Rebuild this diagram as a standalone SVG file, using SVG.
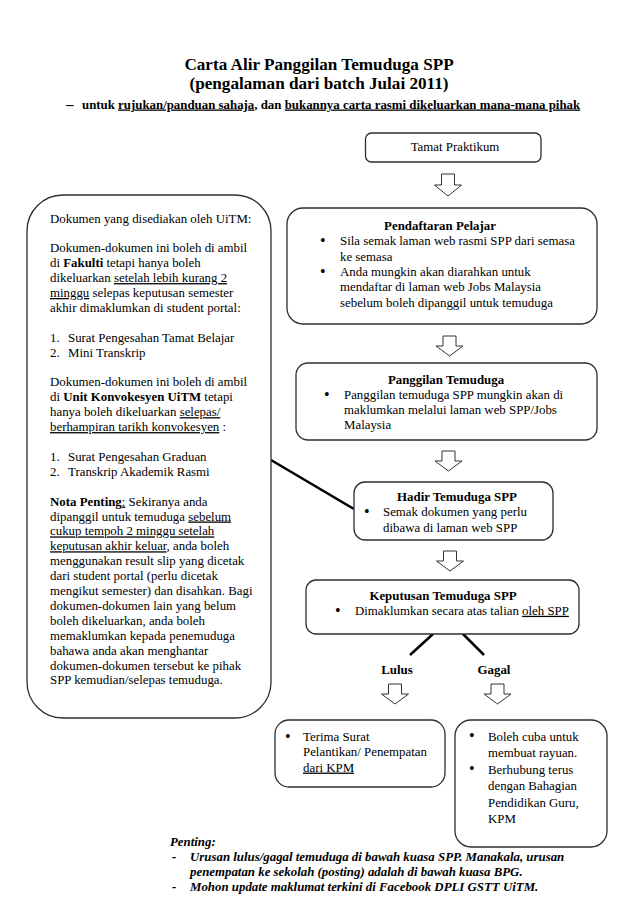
<svg xmlns="http://www.w3.org/2000/svg" width="638" height="902" viewBox="0 0 638 902">
<style>
.t{font-family:"Liberation Serif","Times New Roman",serif;font-size:12.87px;fill:#000}
.h{font-family:"Liberation Serif","Times New Roman",serif;font-size:17.15px;font-weight:bold;fill:#000}
.bl{font-family:"Liberation Serif","Times New Roman",serif;font-size:16px;fill:#000}
.b{font-weight:bold}
.i{font-style:italic}
.u{text-decoration:underline}
.m{text-anchor:middle}
.box{fill:#fff;stroke:#2e2e2e;stroke-width:1.3}
.arr{fill:#fff;stroke:#333;stroke-width:1}
.conn{stroke:#000;stroke-width:2.5;fill:none}
</style>
<rect width="638" height="902" fill="#fff"/>

<g id="title">
<text class="h m" x="319" y="69.5">Carta Alir Panggilan Temuduga SPP</text>
<text class="h m" x="319" y="89.3">(pengalaman dari batch Julai 2011)</text>
<text class="t b" x="66" y="108.5" style="font-size:15px">–</text>
<text class="t b" x="82" y="108.5">untuk <tspan class="u">rujukan/panduan sahaja</tspan>, dan <tspan class="u">bukannya carta rasmi dikeluarkan mana-mana pihak</tspan></text>
</g>

<g id="connectors">
<line class="conn" x1="271" y1="460" x2="354" y2="509"/>
<line class="conn" x1="433" y1="634" x2="410" y2="655"/>
<line class="conn" x1="463" y1="634" x2="484" y2="655"/>
<path class="arr" d="M441.5,174 H454.5 V185 H461.5 L448,196 L434.5,185 H441.5 Z"/>
<path class="arr" d="M443,336 H456 V346 H463 L449.5,356 L436,346 H443 Z"/>
<path class="arr" d="M442,451 H455 V461 H462 L448.5,471 L435,461 H442 Z"/>
<path class="arr" d="M443.5,551 H456.5 V561 H463.5 L450,571 L436.5,561 H443.5 Z"/>
<path class="arr" d="M388.5,684 H401.5 V694 H408.5 L395,704 L381.5,694 H388.5 Z"/>
<path class="arr" d="M491,684 H504 V694 H511 L497.5,704 L484,694 H491 Z"/>
</g>

<g id="tamat">
<rect class="box" x="365.5" y="133" width="175.5" height="29" rx="6"/>
<text class="t m" x="455" y="151">Tamat Praktikum</text>
</g>

<g id="dokumen">
<rect class="box" x="27" y="195" width="244" height="523" rx="36"/>
<text class="t" x="50" y="222.5">Dokumen yang disediakan oleh UiTM:</text>
<text class="t" x="50" y="252.3">Dokumen-dokumen ini boleh di ambil</text>
<text class="t" x="50" y="267.2">di <tspan class="b">Fakulti</tspan> tetapi hanya boleh</text>
<text class="t" x="50" y="282.1">dikeluarkan <tspan class="u">setelah lebih kurang 2</tspan></text>
<text class="t" x="50" y="297"><tspan class="u">minggu</tspan> selepas keputusan semester</text>
<text class="t" x="50" y="311.9">akhir dimaklumkan di student portal:</text>
<text class="t" x="50" y="341.7">1.</text><text class="t" x="68" y="341.7">Surat Pengesahan Tamat Belajar</text>
<text class="t" x="50" y="356.6">2.</text><text class="t" x="68" y="356.6">Mini Transkrip</text>
<text class="t" x="50" y="386.4">Dokumen-dokumen ini boleh di ambil</text>
<text class="t" x="50" y="401.3">di <tspan class="b">Unit Konvokesyen UiTM</tspan> tetapi</text>
<text class="t" x="50" y="416.2">hanya boleh dikeluarkan <tspan class="u">selepas/</tspan></text>
<text class="t" x="50" y="431.1"><tspan class="u">berhampiran tarikh konvokesyen</tspan> :</text>
<text class="t" x="50" y="460.9">1.</text><text class="t" x="68" y="460.9">Surat Pengesahan Graduan</text>
<text class="t" x="50" y="475.8">2.</text><text class="t" x="68" y="475.8">Transkrip Akademik Rasmi</text>
<text class="t" x="50" y="505.6"><tspan class="b">Nota Penting</tspan><tspan class="u">:</tspan> Sekiranya anda</text>
<text class="t" x="50" y="520.5">dipanggil untuk temuduga <tspan class="u">sebelum</tspan></text>
<text class="t" x="50" y="535.4"><tspan class="u">cukup tempoh 2 minggu setelah</tspan></text>
<text class="t" x="50" y="550.3"><tspan class="u">keputusan akhir keluar</tspan>, anda boleh</text>
<text class="t" x="50" y="565.2">menggunakan result slip yang dicetak</text>
<text class="t" x="50" y="580.1">dari student portal (perlu dicetak</text>
<text class="t" x="50" y="595">mengikut semester) dan disahkan. Bagi</text>
<text class="t" x="50" y="609.9">dokumen-dokumen lain yang belum</text>
<text class="t" x="50" y="624.8">boleh dikeluarkan, anda boleh</text>
<text class="t" x="50" y="639.7">memaklumkan kepada penemuduga</text>
<text class="t" x="50" y="654.6">bahawa anda akan menghantar</text>
<text class="t" x="50" y="669.5">dokumen-dokumen tersebut ke pihak</text>
<text class="t" x="50" y="684.4">SPP kemudian/selepas temuduga.</text>
</g>

<g id="pendaftaran">
<rect class="box" x="287" y="208" width="310" height="116" rx="16"/>
<text class="t b m" x="440" y="230">Pendaftaran Pelajar</text>
<text class="bl" x="320" y="246">•</text>
<text class="t" x="340" y="245.3">Sila semak laman web rasmi SPP dari semasa</text>
<text class="t" x="340" y="260.6">ke semasa</text>
<text class="bl" x="320" y="276.6">•</text>
<text class="t" x="340" y="275.9">Anda mungkin akan diarahkan untuk</text>
<text class="t" x="340" y="291.2">mendaftar di laman web Jobs Malaysia</text>
<text class="t" x="340" y="306.5">sebelum boleh dipanggil untuk temuduga</text>
</g>

<g id="panggilan">
<rect class="box" x="296" y="363" width="301" height="77" rx="12"/>
<text class="t b m" x="446" y="383.5">Panggilan Temuduga</text>
<text class="bl" x="324" y="399.5">•</text>
<text class="t" x="344" y="398.8">Panggilan temuduga SPP mungkin akan di</text>
<text class="t" x="344" y="414.1">maklumkan melalui laman web SPP/Jobs</text>
<text class="t" x="344" y="429.4">Malaysia</text>
</g>

<g id="hadir">
<rect class="box" x="354" y="482" width="199" height="58" rx="11"/>
<text class="t b m" x="457" y="501">Hadir Temuduga SPP</text>
<text class="bl" x="364" y="517">•</text>
<text class="t" x="383" y="516.3">Semak dokumen yang perlu</text>
<text class="t" x="383" y="531.6">dibawa di laman web SPP</text>
</g>

<g id="keputusan">
<rect class="box" x="306" y="580" width="273" height="54" rx="10"/>
<text class="t b m" x="443" y="599.5">Keputusan Temuduga SPP</text>
<text class="bl" x="335" y="615.5">•</text>
<text class="t" x="355" y="614.8">Dimaklumkan secara atas talian <tspan class="u">oleh SPP</tspan></text>
</g>

<g id="lulus">
<text class="t b m" x="397" y="673.5">Lulus</text>
</g>
<g id="gagal">
<text class="t b m" x="494" y="673.5">Gagal</text>
</g>

<g id="terima">
<rect class="box" x="275" y="720" width="170" height="67" rx="14"/>
<text class="bl" x="285" y="741.7">•</text>
<text class="t" x="303" y="741">Terima Surat</text>
<text class="t" x="303" y="756.3">Pelantikan/ Penempatan</text>
<text class="t" x="303" y="771.6"><tspan class="u">dari KPM</tspan></text>
</g>

<g id="boleh">
<rect class="box" x="455" y="720" width="152" height="127" rx="16"/>
<text class="bl" x="469" y="741.2">•</text>
<text class="t" x="488" y="740.5">Boleh cuba untuk</text>
<text class="t" x="488" y="757">membuat rayuan.</text>
<text class="bl" x="469" y="774.2">•</text>
<text class="t" x="488" y="773.5">Berhubung terus</text>
<text class="t" x="488" y="790">dengan Bahagian</text>
<text class="t" x="488" y="806.5">Pendidikan Guru,</text>
<text class="t" x="488" y="823">KPM</text>
</g>

<g id="penting">
<text class="t b i" x="170" y="846">Penting:</text>
<text class="t b i" x="172" y="861">-</text>
<text class="t b i" x="190" y="861">Urusan lulus/gagal temuduga di bawah kuasa SPP. Manakala, urusan</text>
<text class="t b i" x="190" y="876">penempatan ke sekolah (posting) adalah di bawah kuasa BPG.</text>
<text class="t b i" x="172" y="891">-</text>
<text class="t b i" x="190" y="891">Mohon update maklumat terkini di Facebook DPLI GSTT UiTM.</text>
</g>
</svg>
